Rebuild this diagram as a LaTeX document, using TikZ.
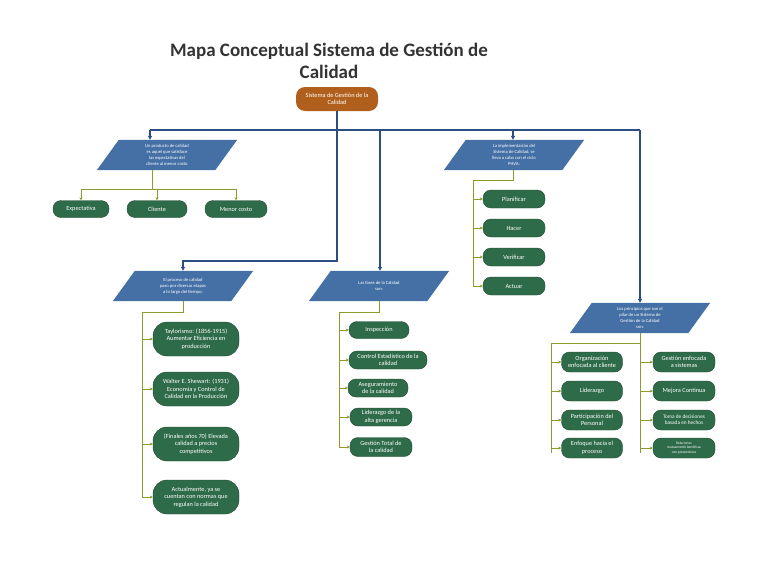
\documentclass[tikz,border=0pt]{standalone}
\usepackage{fontspec}
\setmainfont{Carlito}
\usetikzlibrary{arrows.meta}
\definecolor{gr}{HTML}{2E6B48}
\definecolor{bl}{HTML}{4470A6}
\definecolor{dbl}{HTML}{2C4E80}
\definecolor{ol}{HTML}{8F9B2C}
\definecolor{orn}{HTML}{B0601C}
\tikzset{
 x=1pt,y=-1pt,
 gbox/.style={fill=gr,text=white,rounded corners=8pt,draw=gr!70!black,align=center,font=\fontsize{6.3}{7.6}\selectfont,inner sep=1pt},
 pbox/.style={text=white,align=center,font=\fontsize{4.6}{5.8}\selectfont,minimum width=112pt,minimum height=30pt,inner sep=0pt},
 bline/.style={draw=dbl,line width=1.3pt},
 barr/.style={bline,-{Triangle[length=4pt,width=4pt]}},
 oline/.style={draw=ol,line width=1pt},
 oarr/.style={oline,-{Stealth[length=3pt,width=3pt]}},
}
\newcommand\parashape[1]{\fill[bl] ([xshift=8pt]#1.north west) -- ([xshift=14pt]#1.north east) -- ([xshift=-8pt]#1.south east) -- ([xshift=-14pt]#1.south west) -- cycle;}
\begin{document}
\begin{tikzpicture}
\useasboundingbox (0,0) rectangle (768,562);
\fill[white] (0,0) rectangle (768,562);
\node[font=\bfseries\fontsize{19}{22}\selectfont,text=black!80,align=center] (title) at (329,61) {Mapa Conceptual Sistema de Gestión de\\Calidad};
\node[fill=orn,text=white,rounded corners=9pt,minimum width=82pt,minimum height=24pt,align=center,font=\fontsize{6.3}{7.6}\selectfont,inner sep=1pt] (root) at (337,99) {Sistema de Gestión de la\\Calidad};
% parallelograms
\node[pbox] (p1) at (167,155) {};
\node[pbox] (p2) at (514,155) {};
\node[pbox] (p3) at (183,286) {};
\node[pbox] (p4) at (379,286) {};
\node[pbox] (p5) at (640,318) {};
\foreach \n in {p1,p2,p3,p4,p5}{\parashape{\n}}
\node[pbox] at (p1) {Un producto de calidad\\es aquel que satisface\\las expectativas del\\cliente al menor costo};
\node[pbox] at (p2) {La implementación del\\Sistema de Calidad, se\\lleva a cabo con el ciclo\\PHVA:};
\node[pbox] at (p3) {El proceso de calidad\\paso por diversas etapas\\a lo largo del tiempo:};
\node[pbox] at (p4) {Las fases de la Calidad\\son:};
\node[pbox] at (p5) {Los principios que son el\\pilar de un Sistema de\\Gestión de la Calidad\\son:};
% blue connectors
\coordinate (j) at (337,130);
\draw[bline] (root.south) -- (j);
\draw[bline] (150,130) -- (640,130);
\draw[barr] (150,130) -- (p1.north -| 150,0);
\draw[barr] (513,130) -- (p2.north -| 513,0);
\draw[barr] (380,130) -- (p4.north -| 380,0);
\draw[barr] (640,130) -- (p5.north);
\draw[barr] (j) -- (337,261) -- (183,261) -- (p3.north);
% group 1
\node[gbox,minimum width=56pt,minimum height=17pt] (e1) at (81,209) {Expectativa};
\node[gbox,minimum width=60pt,minimum height=17pt] (e2) at (157,209) {Cliente};
\node[gbox,minimum width=62pt,minimum height=17pt] (e3) at (236,209) {Menor costo};
\draw[oline] (152,170) -- (152,189);
\draw[oline] (81,189) -- (236,189);
\foreach \n in {e1,e2,e3}{\draw[oarr] (\n.north |- 0,189) -- (\n.north);}
% PDCA
\foreach \t/\y [count=\i] in {Planificar/199,Hacer/228,Verificar/257,Actuar/286}{
 \node[gbox,minimum width=62pt,minimum height=18pt] (c\i) at (514,\y) {\t};
 \draw[oarr] (473,\y) -- (c\i.west);}
\draw[oline] (p2.south -| 513,0) -- (513,180) -- (473,180) -- (473,286);
% proceso
\foreach \t/\y [count=\i] in {{Taylorismo: (1856-1915)\\Aumentar Eficiencia en\\producción}/339,{Walter E. Shewart: (1931)\\Economía y Control de\\Calidad en la Producción}/389,{(Finales años 70) Elevada\\calidad a precios\\competitivos}/444,{Actualmente, ya se\\cuentan con normas que\\regulan la calidad}/497}{
 \node[gbox,minimum width=86pt,minimum height=34pt,rounded corners=14pt] (h\i) at (196,\y) {\t};
 \draw[oarr] (142,\y) -- (h\i.west);}
\draw[oline] (p3.south) -- (183,312) -- (142,312) -- (142,497);
% fases
\node[gbox,minimum width=60pt,minimum height=17pt] (f1) at (379,330) {Inspección};
\node[gbox,minimum width=78pt,minimum height=18pt] (f2) at (388,360) {Control Estadístico de la\\calidad};
\node[gbox,minimum width=60pt,minimum height=18pt] (f3) at (378,388) {Aseguramiento\\de la calidad};
\node[gbox,minimum width=62pt,minimum height=18pt] (f4) at (381,417) {Liderazgo de la\\alta gerencia};
\node[gbox,minimum width=62pt,minimum height=19pt] (f5) at (381,447) {Gestión Total de\\la calidad};
\foreach \n in {f1,f2,f3,f4,f5}{\draw[oarr] (\n.west -| 339,0) -- (\n.west);}
\draw[oline] (p4.south) -- (379,312) -- (339,312) -- (339,447);
% principios
\draw[oline] (p5.south) -- (640,343);
\draw[oline] (551,343) -- (640,343);
\draw[oline] (551,343) -- (551,453);
\draw[oline] (640,343) -- (640,453);
\foreach \t/\y [count=\i] in {{Organización\\enfocada al cliente}/362,{Liderazgo}/391,{Participación del\\Personal}/420,{Enfoque hacia el\\proceso}/448}{
 \node[gbox,minimum width=61pt,minimum height=20pt] (l\i) at (592,\y) {\t};
 \draw[oarr] (551,\y) -- (l\i.west);}
\node[gbox,minimum width=62pt,minimum height=20pt] (r1) at (684,362) {Gestión enfocada\\a sistemas};
\node[gbox,minimum width=62pt,minimum height=20pt] (r2) at (684,391) {Mejora Continua};
\node[gbox,minimum width=62pt,minimum height=20pt,font=\fontsize{5.3}{6.3}\selectfont] (r3) at (684,420) {Toma de decisiones\\basada en hechos};
\node[gbox,minimum width=62pt,minimum height=20pt,font=\fontsize{3.6}{4.4}\selectfont] (r4) at (684,448) {Relaciones\\mutuamente benéficas\\con proveedores};
\foreach \n in {r1,r2,r3,r4}{\draw[oarr] (\n.west -| 640,0) -- (\n.west);}
\end{tikzpicture}
\end{document}
